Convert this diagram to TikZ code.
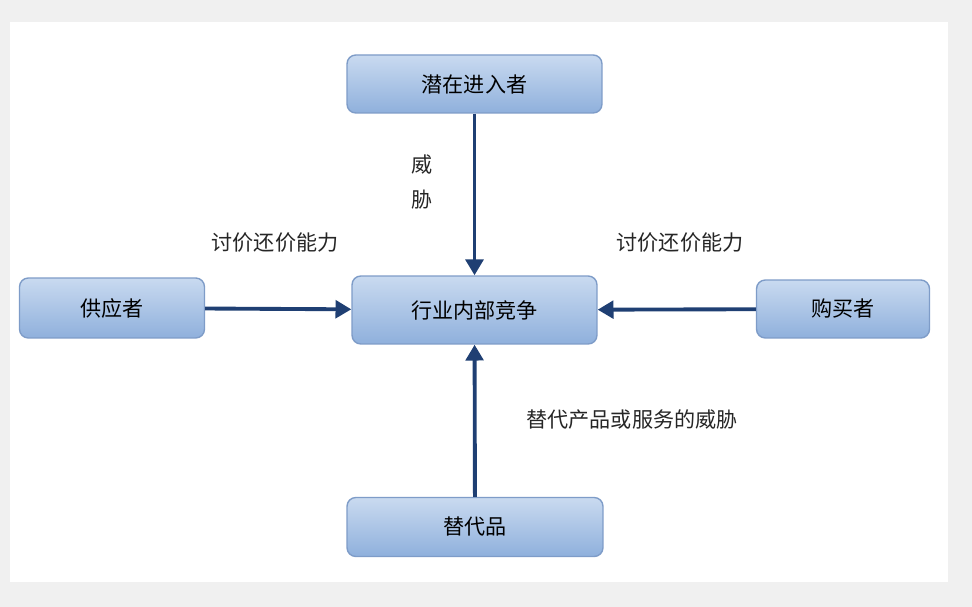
\documentclass[tikz,border=0pt]{standalone}
\usepackage{fontspec}
\setmainfont{Noto Sans CJK SC}
\usetikzlibrary{arrows.meta}
\definecolor{boxtop}{HTML}{C9DAF0}
\definecolor{boxbot}{HTML}{8FB0DC}
\definecolor{boxline}{HTML}{7E9CC8}
\definecolor{arrowc}{HTML}{1F3F73}
\begin{document}
\begin{tikzpicture}[x=0.02cm,y=-0.02cm,
	forcebox/.style = {rectangle, rounded corners=5pt, draw=boxline, thick,
		top color=boxtop, bottom color=boxbot, font=\fontsize{12}{14}\selectfont,
		inner sep=0pt},
	lbl/.style = {font=\fontsize{12}{14}\selectfont, text=black!85},
	force/.style = {draw=arrowc, line width=2.2pt, -{Triangle[length=9pt,width=10pt]}}]

\fill[black!6] (0,0) rectangle (972,607);
\fill[white] (10,22) rectangle (948,582);
\useasboundingbox (0,0) rectangle (972,607);

\node[forcebox, minimum width=5.1cm, minimum height=1.16cm] (entrant) at (474.5,84) {潜在进入者};
\node[forcebox, minimum width=4.9cm, minimum height=1.36cm] (rivalry) at (474.5,310) {行业内部竞争};
\node[forcebox, minimum width=3.7cm, minimum height=1.2cm] (supplier) at (112,308) {供应者};
\node[forcebox, minimum width=3.46cm, minimum height=1.16cm] (buyer) at (843,309) {购买者};
\node[forcebox, minimum width=5.12cm, minimum height=1.18cm] (substitute) at (475,527) {替代品};

\draw[force] (entrant) -- (rivalry);
\draw[force] (supplier) -- (rivalry);
\draw[force] (buyer) -- (rivalry);
\draw[force] (substitute) -- (rivalry);

\node[lbl] (threat) at (422,165) {威};
\node[lbl] (threat2) at (422,200) {胁};
\node[lbl] (bargainl) at (275,243) {讨价还价能力};
\node[lbl] (bargainr) at (680,243) {讨价还价能力};
\node[lbl] (subthreat) at (632,420) {替代产品或服务的威胁};
\end{tikzpicture}
\end{document}
